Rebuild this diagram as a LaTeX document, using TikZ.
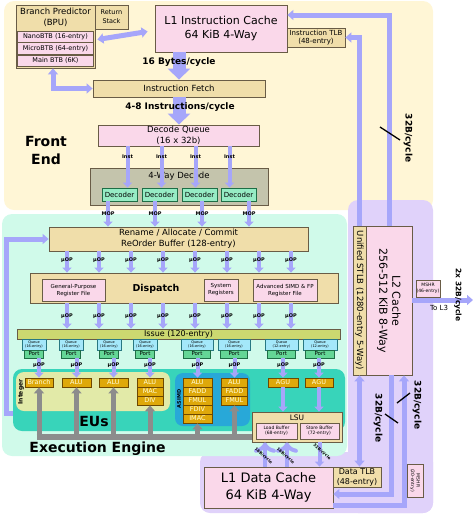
\documentclass[tikz,border=0pt]{standalone}
\usepackage{fontspec}
\setmainfont{DejaVu Sans}
\usepackage{tikz}
\usetikzlibrary{arrows.meta, positioning, calc}

\definecolor{frontBg}{RGB}{255,246,214}
\definecolor{execBg}{RGB}{208,250,234}
\definecolor{cacheBg}{RGB}{224,210,250}
\definecolor{pinkFill}{RGB}{250,216,234}
\definecolor{tanFill}{RGB}{240,222,170}
\definecolor{edgeCol}{RGB}{105,92,70}
\definecolor{lavCol}{RGB}{166,166,250}
\definecolor{decGray}{RGB}{196,196,172}
\definecolor{decFill}{RGB}{150,236,196}
\definecolor{decEdge}{RGB}{30,110,70}
\definecolor{issueFill}{RGB}{204,216,112}
\definecolor{queueFill}{RGB}{164,232,250}
\definecolor{queueEdge}{RGB}{40,120,130}
\definecolor{portFill}{RGB}{100,214,150}
\definecolor{euBg}{RGB}{56,212,186}
\definecolor{intBg}{RGB}{226,234,168}
\definecolor{simdBg}{RGB}{40,168,216}
\definecolor{euFill}{RGB}{222,168,10}
\definecolor{euEdge}{RGB}{110,72,0}
\definecolor{busCol}{RGB}{140,140,140}

\begin{document}
\begin{tikzpicture}[x=1pt, y=-1pt]
    % Define styles
    \tikzstyle{unitBox}=[draw=edgeCol, line width=0.8pt, inner sep=0pt, align=center]
    \tikzstyle{pinkBox}=[unitBox, fill=pinkFill]
    \tikzstyle{tanBox}=[unitBox, fill=tanFill]
    \tikzstyle{decBox}=[unitBox, draw=decEdge, fill=decFill, minimum width=35pt, minimum height=13pt, font=\fontsize{7}{8}\selectfont]
    \tikzstyle{queueBox}=[unitBox, draw=queueEdge, fill=queueFill, minimum height=11pt, font=\fontsize{3.5}{4}\selectfont]
    \tikzstyle{portBox}=[unitBox, draw=decEdge, fill=portFill, minimum height=8pt, font=\fontsize{5.5}{6}\selectfont]
    \tikzstyle{euBox}=[unitBox, draw=euEdge, fill=euFill, text=white!85!yellow, minimum height=9pt, font=\fontsize{6.5}{7}\selectfont]
    \tikzstyle{lavArrow}=[draw=lavCol, line width=4pt, -{Triangle[width=9pt,length=5pt]}]
    \tikzstyle{bigArrow}=[draw=lavCol, line width=13pt, -{Triangle[width=22pt,length=11pt]}]
    \tikzstyle{lavLine}=[draw=lavCol, line width=5pt]
    \tikzstyle{lavTo}=[lavLine, -{Triangle[width=10pt,length=6pt]}]
    \tikzstyle{lavFrom}=[lavLine, {Triangle[width=10pt,length=6pt]}-]
    \tikzstyle{lavBoth}=[lavLine, {Triangle[width=10pt,length=6pt]}-{Triangle[width=10pt,length=6pt]}]
    \tikzstyle{busArrow}=[draw=busCol, line width=5pt, -{Triangle[width=10pt,length=6pt]}]
    \tikzstyle{tinyLbl}=[inner sep=0pt, font=\fontsize{5}{5}\selectfont\bfseries]
    \tikzstyle{rateLbl}=[inner sep=0pt, font=\fontsize{9}{10}\selectfont\bfseries]
    \tikzstyle{regionLbl}=[inner sep=0pt, align=center, font=\fontsize{14}{18}\selectfont\bfseries]

    \useasboundingbox (0,0) rectangle (474,515);

    % Background regions
    \fill[frontBg, rounded corners=10pt] (4,1) rectangle (433,210);
    \fill[cacheBg, rounded corners=10pt] (348,200) rectangle (433,513);
    \fill[cacheBg, rounded corners=10pt] (200,452) rectangle (433,513);
    \fill[execBg, rounded corners=10pt] (2,214) rectangle (347,456);

    % Front End
    \node[regionLbl] (frontLbl) at (46,150) {Front\\End};

    % Branch predictor with BTBs
    \node[tanBox, minimum width=79pt, minimum height=63pt] (bpu) at (55.5,36.5) {};
    \node[inner sep=0pt, align=center, font=\fontsize{8.5}{11}\selectfont] (bpuTitle) at (55.5,17.5) {Branch Predictor\\(BPU)};
    \node[tanBox, minimum width=33pt, minimum height=24pt, font=\fontsize{6.5}{9}\selectfont] (rstack) at (111.5,17) {Return\\Stack};
    \node[pinkBox, minimum width=76pt, minimum height=11.5pt, font=\fontsize{6.5}{7}\selectfont] (nanoBtb) at (55.5,36.75) {NanoBTB (16-entry)};
    \node[pinkBox, minimum width=76pt, minimum height=11.5pt, font=\fontsize{6.5}{7}\selectfont] (microBtb) at (55.5,48.25) {MicroBTB (64-entry)};
    \node[pinkBox, minimum width=76pt, minimum height=11pt, font=\fontsize{6.5}{7}\selectfont] (mainBtb) at (55.5,60.5) {Main BTB (6K)};

    % L1 instruction cache and fetch
    \node[pinkBox, minimum width=132pt, minimum height=47pt, font=\fontsize{11}{14}\selectfont] (l1i) at (221,28.5) {L1 Instruction Cache\\64 KiB 4-Way};
    \node[tanBox, minimum width=58pt, minimum height=19pt, font=\fontsize{7}{8.5}\selectfont] (itlb) at (316,37.5) {Instruction TLB\\(48-entry)};
    \node[tanBox, minimum width=172pt, minimum height=17pt, font=\fontsize{8.5}{10}\selectfont] (ifetch) at (179,88.5) {Instruction Fetch};
    \node[pinkBox, minimum width=161pt, minimum height=21pt, font=\fontsize{8.5}{10.5}\selectfont] (dq) at (178.5,135.5) {Decode Queue\\(16 x 32b)};

    % 4-way decode
    \node[unitBox, fill=decGray, minimum width=178pt, minimum height=37pt] (dec4) at (179,186.5) {};
    \node[inner sep=0pt, font=\fontsize{8.5}{10}\selectfont] (dec4Title) at (179,176) {4-Way Decode};
    \foreach \i/\x in {1/119.5, 2/159.5, 3/199.5, 4/238.5}
        \node[decBox] (dec\i) at (\x,194.5) {Decoder};

    % Front end connectors
    \draw[lavBoth] ([xshift=2pt, yshift=-3pt]bpu.east) -- ([xshift=-7pt, yshift=-3pt]l1i.west);
    \draw[lavBoth] ([xshift=-2.5pt]bpu.south) |- (ifetch.west);
    \draw[bigArrow] (ifetch.north |- l1i.south) -- (ifetch.north);
    \draw[bigArrow] (ifetch.south) -- (ifetch.south |- dq.north);
    \node[rateLbl] (fetchRate) at (179,62) {16 Bytes/cycle};
    \node[rateLbl] (decRate) at (180,107) {4-8 Instructions/cycle};
    \foreach \dx in {-51, -17, 17, 51} {
        \draw[lavArrow] ([xshift=\dx pt]dq.south) -- ([xshift=\dx pt]dq.south |- dec4.north);
        \node[tinyLbl] at ([xshift=\dx pt, yshift=-10pt]dq.south) {Inst};
    }

    % Execution engine
    \node[tanBox, minimum width=259pt, minimum height=24pt, font=\fontsize{8.5}{11}\selectfont] (rob) at (178.5,239) {Rename / Allocate / Commit\\ReOrder Buffer (128-entry)};
    \foreach \dx in {-70.5, -23.5, 23.5, 70.5} {
        \draw[lavArrow] ([xshift=\dx pt]rob.north |- dec4.south) -- ([xshift=\dx pt]rob.north);
        \node[tinyLbl] at ([xshift=\dx pt, yshift=13pt]rob.north) {MOP};
    }

    \node[tanBox, minimum width=308pt, minimum height=30pt] (disp) at (184,288) {};
    \node[inner sep=0pt, font=\fontsize{9.5}{11}\selectfont\bfseries] (dispTxt) at (156,289) {Dispatch};
    \node[pinkBox, minimum width=63pt, minimum height=22pt, font=\fontsize{5.5}{7}\selectfont] (gprf) at (73.5,290) {General-Purpose\\Register File};
    \node[pinkBox, minimum width=34pt, minimum height=22pt, font=\fontsize{5.5}{7}\selectfont] (sysreg) at (221,290) {System\\Registers};
    \node[pinkBox, minimum width=64pt, minimum height=22pt, font=\fontsize{5.5}{7}\selectfont] (simdrf) at (285,290) {Advanced SIMD \& FP\\Register File};

    \node[unitBox, fill=issueFill, minimum width=323pt, minimum height=10pt, font=\fontsize{8}{9}\selectfont] (issue) at (178.5,334) {Issue (120-entry)};

    \foreach \x in {67, 99, 131, 163, 195, 227, 259, 291} {
        \draw[lavArrow] (\x,0 |- rob.south) -- (\x,0 |- disp.north);
        \node[tinyLbl] at (\x,260) {μOP};
        \draw[lavArrow] (\x,0 |- disp.south) -- (\x,0 |- issue.north);
        \node[tinyLbl] at (\x,316) {μOP};
    }

    % Issue queues and ports
    \foreach \i/\x/\w/\n in {1/34/24/16, 2/71/24/16, 3/109/24/16, 4/145/24/16, 5/197/32/16, 6/234/32/16, 7/281.5/33/12, 8/320/34/12} {
        \node[queueBox, minimum width=\w] (q\i) at (\x,344.5) {Queue\\(\n-entry)};
        \node[portBox, minimum width=\w-5] (p\i) at (\x,354) {Port};
    }

    % EUs
    \node[fill=euBg, rounded corners=9pt, minimum width=332pt, minimum height=62pt, inner sep=0pt] (eus) at (179,400) {};
    \node[fill=intBg, rounded corners=8pt, minimum width=154pt, minimum height=39pt, inner sep=0pt] (intRegion) at (93,391.5) {};
    \node[fill=simdBg, rounded corners=8pt, minimum width=75pt, minimum height=53pt, inner sep=0pt] (simdRegion) at (212.5,399.5) {};
    \node[rotate=90, inner sep=0pt, font=\fontsize{6}{6}\selectfont\bfseries] (intLbl) at (21,392) {Integer};
    \node[rotate=90, inner sep=0pt, font=\fontsize{5}{5}\selectfont\bfseries] (simdLbl) at (179,399) {ASIMD};
    \node[regionLbl] (eusLbl) at (94,421) {EUs};

    \node[euBox, minimum width=28pt] (br) at (39,382.5) {Branch};
    \node[euBox, minimum width=29pt] (ialuA) at (76.5,382.5) {ALU};
    \node[euBox, minimum width=29pt] (ialuB) at (113.5,382.5) {ALU};
    \node[euBox, minimum width=26pt] (ialuC) at (150,382.5) {ALU};
    \node[euBox, minimum width=26pt] (imac) at (150,391.5) {MAC};
    \node[euBox, minimum width=26pt] (idiv) at (150,400.5) {DIV};
    \foreach \t [count=\i] in {ALU, FADD, FMUL, FDIV, IMAC}
        \node[euBox, minimum width=29pt] (fpA\i) at (197.5,373.5+9*\i) {\t};
    \foreach \t [count=\i] in {ALU, FADD, FMUL}
        \node[euBox, minimum width=26pt] (fpB\i) at (234.5,373.5+9*\i) {\t};
    \node[euBox, minimum width=30pt] (aguA) at (283,382.5) {AGU};
    \node[euBox, minimum width=28pt] (aguB) at (319,382.5) {AGU};

    \foreach \p/\u in {1/br, 2/ialuA, 3/ialuB, 4/ialuC, 5/fpA1, 6/fpB1, 7/aguA, 8/aguB} {
        \draw[lavArrow] (p\p.south -| \u.north) -- (\u.north);
        \node[tinyLbl] at (\u.north |- 0,365) {μOP};
    }

    % LSU
    \node[tanBox, minimum width=90pt, minimum height=30pt] (lsu) at (297,427) {};
    \node[inner sep=0pt, font=\fontsize{7.5}{8}\selectfont] (lsuTxt) at (297,417.5) {LSU};
    \node[pinkBox, minimum width=41pt, minimum height=16pt, font=\fontsize{4.5}{5.5}\selectfont] (ldBuf) at (276.5,431) {Load Buffer\\(68-entry)};
    \node[pinkBox, minimum width=39pt, minimum height=16pt, font=\fontsize{4.5}{5.5}\selectfont] (stBuf) at (319.5,431) {Store Buffer\\(72-entry)};
    \draw[lavArrow] (aguA.south) -- (aguA.south |- lsu.north);
    \draw[lavArrow] (aguB.south) -- (aguB.south |- lsu.north);

    % Result bus
    \coordinate (busStart) at (36.5,437);
    \draw[draw=busCol, line width=6pt] (busStart) -- (busStart -| lsu.west);
    \foreach \u in {br, ialuA, ialuB, idiv, fpA5, fpB3}
        \draw[busArrow] (\u.south |- busStart) -- (\u.south);

    \node[regionLbl] (execLbl) at (97.5,449) {Execution Engine};

    % Branch feedback into rename
    \coordinate (fbTurn) at (6,413);
    \draw[lavTo] (eus.west |- fbTurn) -- (fbTurn) |- (rob.west);

    % L2 cache
    \node[tanBox, minimum width=13pt, minimum height=149pt] (stlb) at (359.5,300.5) {};
    \node[rotate=-90, inner sep=0pt, font=\fontsize{8.5}{10}\selectfont] (stlbTxt) at (stlb.center) {Unified STLB (1280-entry 5-Way)};
    \node[pinkBox, minimum width=46pt, minimum height=149pt] (l2) at (389,300.5) {};
    \node[rotate=-90, inner sep=0pt, align=center, font=\fontsize{11}{13}\selectfont] (l2Txt) at (l2.center) {L2 Cache\\256-512 KiB 8-Way};
    \node[pinkBox, minimum width=24pt, minimum height=17pt, font=\fontsize{4.5}{5.5}\selectfont] (mshrL2) at (428,288.5) {MSHR\\(46-entry)};

    % L1 data cache
    \node[pinkBox, minimum width=129pt, minimum height=41pt, font=\fontsize{13}{17}\selectfont] (l1d) at (268.5,487.5) {L1 Data Cache\\64 KiB 4-Way};
    \node[tanBox, minimum width=48pt, minimum height=20pt, font=\fontsize{8}{10}\selectfont] (dtlb) at (357,477) {Data TLB\\(48-entry)};
    \node[pinkBox, minimum width=16pt, minimum height=33pt] (mshrL1) at (415,480.5) {};
    \node[rotate=-90, inner sep=0pt, align=center, font=\fontsize{4.5}{5.5}\selectfont] (mshrL1Txt) at (mshrL1.center) {MSHR\\(20-entry)};

    % L2 connectors
    \draw[lavFrom] ([yshift=13.5pt]l1i.east) -| (l2.north);
    \draw[lavFrom] (itlb.east) -| (stlb.north);
    \draw[line width=1.3pt] (380,127) -- (400,140);
    \node[rateLbl, rotate=-90] (l2iRate) at (408,138) {32B/cycle};

    \coordinate (toL3) at (473,300);
    \draw[lavTo] (l2.east |- toL3) -- (toL3);
    \node[inner sep=0pt, font=\fontsize{7}{8}\selectfont] (toL3Txt) at (439,308) {To L3};
    \node[inner sep=0pt, rotate=-90, font=\fontsize{7.5}{8}\selectfont\bfseries] (l3Rate) at (458,295) {2x 32B/cycle};

    \draw[lavBoth] (stlb.south) -- (stlb.south |- dtlb.north);
    \draw[lavTo] ([xshift=2pt]l2.south) |- ([yshift=-6.5pt]l1d.east);
    \draw[lavFrom] ([xshift=15pt]l2.south) |- ([yshift=-17.5pt]l1d.east);
    \draw[line width=1.3pt] (385,414) -- (398,423);
    \draw[line width=1.3pt] (397,403) -- (410,393);
    \node[rateLbl, rotate=-90] (l1dRateA) at (378,418) {32B/cycle};
    \node[rateLbl, rotate=-90] (l1dRateB) at (417,405) {32B/cycle};

    % LSU <-> L1D
    \draw[lavArrow, <-] ([xshift=-11.5pt]ldBuf.south |- lsu.south) -- ([xshift=-11.5pt]ldBuf.south |- l1d.north);
    \draw[lavArrow, <-] ([xshift=10.5pt]ldBuf.south |- lsu.south) -- ([xshift=10.5pt]ldBuf.south |- l1d.north);
    \draw[lavArrow] (stBuf.south |- lsu.south) -- (stBuf.south |- l1d.north);
    \node[rotate=-40, inner sep=0pt, font=\fontsize{4}{4}\selectfont\bfseries] (ldRateA) at (263.5,456) {16B/cycle};
    \node[rotate=-40, inner sep=0pt, font=\fontsize{4}{4}\selectfont\bfseries] (ldRateB) at (285.5,456) {16B/cycle};
    \node[rotate=-40, inner sep=0pt, font=\fontsize{4}{4}\selectfont\bfseries] (stRate) at (322,452) {32B/cycle};
\end{tikzpicture}
\end{document}
